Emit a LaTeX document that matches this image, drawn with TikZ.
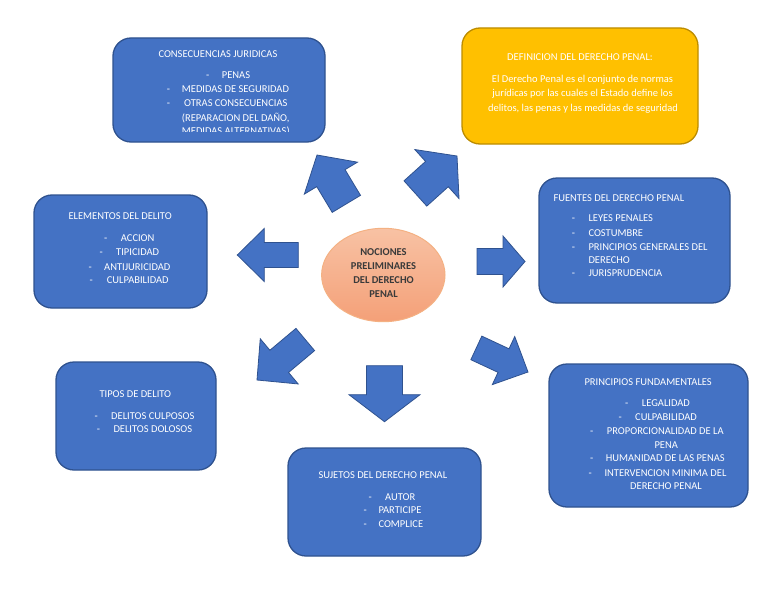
\documentclass[tikz,border=0pt]{standalone}
\usepackage{fontspec}
\usetikzlibrary{shapes.geometric}
\setmainfont{Carlito}
\definecolor{bfill}{HTML}{4472C4}
\definecolor{bline}{HTML}{2F528F}
\definecolor{yfill}{HTML}{FFC000}
\definecolor{yline}{HTML}{BC8C00}
\definecolor{etop}{HTML}{F8C2A4}
\definecolor{ebot}{HTML}{F4A078}
\definecolor{eline}{HTML}{F4B183}
\definecolor{etext}{HTML}{3A3A3A}
\newcommand\blockarrow[7]{%
  \begin{scope}[shift={(#1,#2)},rotate=#3]
    \draw[arrowsty] (0,0) -- ({-#5pt},{0.5*#6pt}) -- ({-#5pt},{0.5*#7pt}) -- ({-#4pt},{0.5*#7pt})
      -- ({-#4pt},{-0.5*#7pt}) -- ({-#5pt},{-0.5*#7pt}) -- ({-#5pt},{-0.5*#6pt}) -- cycle;
  \end{scope}}
\begin{document}
\begin{tikzpicture}[x=1pt,y=-1pt,
  bluebox/.style={draw=bline, line width=1.3pt, fill=bfill, rounded corners=18pt, inner sep=0pt},
  yellowbox/.style={draw=yline, line width=1.3pt, fill=yfill, rounded corners=18pt, inner sep=0pt},
  arrowsty/.style={draw=bline, line width=0.8pt, fill=bfill, line join=miter},
  txt/.style={text=white, inner sep=0pt, anchor=base west, font=\fontsize{10.5}{14}\selectfont},
  ctxt/.style={txt, anchor=base},
  etxt/.style={text=etext, inner sep=0pt, anchor=base, font=\fontsize{10.5}{14}\selectfont\bfseries}]
\useasboundingbox[fill=white] (0,0) rectangle (768,594);

% boxes
\node[bluebox, minimum width=212pt, minimum height=104pt] (cons) at (219,90) {};
\node[yellowbox, minimum width=236pt, minimum height=116pt] (defi) at (580,86) {};
\node[bluebox, minimum width=173pt, minimum height=113pt] (elem) at (120.5,251.5) {};
\node[bluebox, minimum width=191pt, minimum height=125pt] (fuen) at (634.5,240.5) {};
\node[bluebox, minimum width=160pt, minimum height=108pt] (tipo) at (136,416) {};
\node[bluebox, minimum width=193pt, minimum height=108pt] (suje) at (384.5,502) {};
\node[bluebox, minimum width=199pt, minimum height=143pt] (prin) at (648.5,435.5) {};
\node[ellipse, draw=eline, line width=1pt, top color=etop, bottom color=ebot,
      minimum width=123.4pt, minimum height=93.4pt, inner sep=0pt] (noci) at (383.3,275) {};

% center text
\node[etxt] (n1) at (383.5,255) {NOCIONES};
\node[etxt] (n2) at (383.5,269.3) {PRELIMINARES};
\node[etxt] (n3) at (383.5,283.3) {DEL DERECHO};
\node[etxt] (n4) at (383.5,297.3) {PENAL};

% consecuencias
\begin{scope}
\clip (113,38) rectangle (325,131);
\node[txt] (c0) at (158.3,57.7) {CONSECUENCIAS JURIDICAS};
\node[txt] at (206,78.3) {-};
\node[txt] (c1) at (221.7,78.3) {PENAS};
\node[txt] at (166.7,92.3) {-};
\node[txt] (c2) at (181.7,92.3) {MEDIDAS DE SEGURIDAD};
\node[txt] at (166.7,106.7) {-};
\node[txt] (c3) at (184,106.7) {OTRAS CONSECUENCIAS};
\node[txt] (c4) at (181.7,121) {(REPARACION DEL DAÑO,};
\node[txt] (c5) at (181.7,134.8) {MEDIDAS ALTERNATIVAS)};
\end{scope}

% definicion
\node[ctxt] (d0) at (580,60.7) {DEFINICION DEL DERECHO PENAL:};
\node[ctxt] (d1) at (582.5,82.3) {El Derecho Penal es el conjunto de normas};
\node[ctxt] (d2) at (582.5,96.8) {jurídicas por las cuales el Estado define los};
\node[ctxt] (d3) at (583,111.3) {delitos, las penas y las medidas de seguridad};

% elementos
\node[txt] (e0) at (68.3,219.3) {ELEMENTOS DEL DELITO};
\node[txt] at (104,241.7) {-};
\node[txt] (e1) at (120.7,241.7) {ACCION};
\node[txt] at (99.3,255.7) {-};
\node[txt] (e2) at (116,255.7) {TIPICIDAD};
\node[txt] at (88.3,270) {-};
\node[txt] (e3) at (104,270) {ANTIJURICIDAD};
\node[txt] at (89.3,283.3) {-};
\node[txt] (e4) at (106.7,283.3) {CULPABILIDAD};

% fuentes
\node[txt] (f0) at (553.3,201) {FUENTES DEL DERECHO PENAL};
\node[txt] at (571.7,221.7) {-};
\node[txt] (f1) at (588.3,221.7) {LEYES PENALES};
\node[txt] at (571.7,236.7) {-};
\node[txt] (f2) at (588.3,236.7) {COSTUMBRE};
\node[txt] at (571.7,250) {-};
\node[txt] (f3) at (588.3,250) {PRINCIPIOS GENERALES DEL};
\node[txt] (f4) at (588.3,263.3) {DERECHO};
\node[txt] at (571.7,276.7) {-};
\node[txt] (f5) at (588.3,276.7) {JURISPRUDENCIA};

% tipos
\node[txt] (t0) at (99.3,397.7) {TIPOS DE DELITO};
\node[txt] at (94.3,419) {-};
\node[txt] (t1) at (111,419) {DELITOS CULPOSOS};
\node[txt] at (96.7,432.3) {-};
\node[txt] (t2) at (113.3,432.3) {DELITOS DOLOSOS};

% sujetos
\node[txt] (s0) at (318.3,478.3) {SUJETOS DEL DERECHO PENAL};
\node[txt] at (368.3,500) {-};
\node[txt] (s1) at (385,500) {AUTOR};
\node[txt] at (363.3,513.3) {-};
\node[txt] (s2) at (378.3,513.3) {PARTICIPE};
\node[txt] at (363.3,527.7) {-};
\node[txt] (s3) at (378.3,527.7) {COMPLICE};

% principios
\node[txt] (p0) at (584.3,385) {PRINCIPIOS FUNDAMENTALES};
\node[txt] at (625,406.7) {-};
\node[txt] (p1) at (641.7,406.7) {LEGALIDAD};
\node[txt] at (618.3,420) {-};
\node[txt] (p2) at (635,420) {CULPABILIDAD};
\node[txt] at (590,434) {-};
\node[txt] (p3) at (606.7,434) {PROPORCIONALIDAD DE LA};
\node[txt] (p4) at (654.3,448.3) {PENA};
\node[txt] at (590,461.7) {-};
\node[txt] (p5) at (605.7,461.7) {HUMANIDAD DE LAS PENAS};
\node[txt] at (588.3,476) {-};
\node[txt] (p6) at (604.3,476) {INTERVENCION MINIMA DEL};
\node[txt] (p7) at (630,489.3) {DERECHO PENAL};

% block arrows: tip x, tip y, angle, length, head length, head width, shaft width
\blockarrow{317}{155}{121}{57}{27}{62}{33}
\blockarrow{457}{156}{42}{56}{27}{66}{34}
\blockarrow{237.3}{255}{180}{61}{27}{53}{25}
\blockarrow{525}{261.5}{0}{48}{22}{51}{26}
\blockarrow{257}{380}{220}{63}{29}{59}{29}
\blockarrow{384.5}{421.7}{270}{56}{27}{71}{36}
\blockarrow{528}{372}{-25}{57}{27}{53}{26}
\end{tikzpicture}
\end{document}
